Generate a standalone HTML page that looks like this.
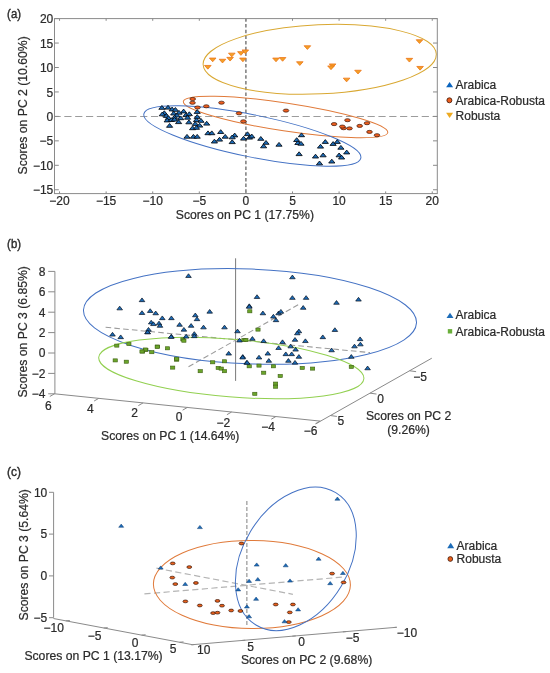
<!DOCTYPE html>
<html><head><meta charset="utf-8"><style>
html,body{margin:0;padding:0;background:#fff;}
body{width:550px;height:673px;overflow:hidden;}
svg{display:block;font-family:"Liberation Sans", sans-serif;will-change:transform;}
text{stroke:#2a2a2a;stroke-width:0.22px;paint-order:stroke;}
</style></head><body>
<svg width="550" height="673" viewBox="0 0 550 673">
<rect width="550" height="673" fill="#fff"/>
<line x1="54.5" y1="116.4" x2="437.3" y2="116.4" stroke="#9c9c9c" stroke-width="1.05" stroke-dasharray="7.2 3.63" stroke-dashoffset="1"/>
<line x1="245.9" y1="18.6" x2="245.9" y2="193.6" stroke="#727272" stroke-width="1.4" stroke-dasharray="3.5 2.2" stroke-dashoffset="0.3"/>
<ellipse cx="319.7" cy="59.3" rx="116.7" ry="34.6" transform="rotate(-2.6 319.7 59.3)" fill="none" stroke="#D9A832" stroke-width="1.0"/>
<ellipse cx="285.55" cy="117" rx="103.4" ry="14" transform="rotate(8.62 285.55 117)" fill="none" stroke="#E07A3A" stroke-width="1.0"/>
<ellipse cx="252.35" cy="136" rx="110.7" ry="21.05" transform="rotate(11.5 252.35 136)" fill="none" stroke="#4472C4" stroke-width="1.0"/>
<polygon points="204.5,65.45 211.1,65.45 207.8,69.15" fill="#F3A226" stroke="#EE7418" stroke-width="0.8" stroke-linejoin="miter"/>
<polygon points="209.4,58.05 216,58.05 212.7,61.75" fill="#F3A226" stroke="#EE7418" stroke-width="0.8" stroke-linejoin="miter"/>
<polygon points="219.2,59.25 225.8,59.25 222.5,62.95" fill="#F3A226" stroke="#EE7418" stroke-width="0.8" stroke-linejoin="miter"/>
<polygon points="226.8,57.35 233.4,57.35 230.1,61.05" fill="#F3A226" stroke="#EE7418" stroke-width="0.8" stroke-linejoin="miter"/>
<polygon points="228.5,53.15 235.1,53.15 231.8,56.85" fill="#F3A226" stroke="#EE7418" stroke-width="0.8" stroke-linejoin="miter"/>
<polygon points="237.6,51.65 244.2,51.65 240.9,55.35" fill="#F3A226" stroke="#EE7418" stroke-width="0.8" stroke-linejoin="miter"/>
<polygon points="242,49.95 248.6,49.95 245.3,53.65" fill="#F3A226" stroke="#EE7418" stroke-width="0.8" stroke-linejoin="miter"/>
<polygon points="239.6,58.05 246.2,58.05 242.9,61.75" fill="#F3A226" stroke="#EE7418" stroke-width="0.8" stroke-linejoin="miter"/>
<polygon points="272.7,58.05 279.3,58.05 276,61.75" fill="#F3A226" stroke="#EE7418" stroke-width="0.8" stroke-linejoin="miter"/>
<polygon points="279.3,57.55 285.9,57.55 282.6,61.25" fill="#F3A226" stroke="#EE7418" stroke-width="0.8" stroke-linejoin="miter"/>
<polygon points="296.5,61.75 303.1,61.75 299.8,65.45" fill="#F3A226" stroke="#EE7418" stroke-width="0.8" stroke-linejoin="miter"/>
<polygon points="304.1,45.75 310.7,45.75 307.4,49.45" fill="#F3A226" stroke="#EE7418" stroke-width="0.8" stroke-linejoin="miter"/>
<polygon points="329.3,63.95 335.9,63.95 332.6,67.65" fill="#F3A226" stroke="#EE7418" stroke-width="0.8" stroke-linejoin="miter"/>
<polygon points="327.7,65.95 334.3,65.95 331,69.65" fill="#F3A226" stroke="#EE7418" stroke-width="0.8" stroke-linejoin="miter"/>
<polygon points="343.3,78.15 349.9,78.15 346.6,81.85" fill="#F3A226" stroke="#EE7418" stroke-width="0.8" stroke-linejoin="miter"/>
<polygon points="354.7,70.25 361.3,70.25 358,73.95" fill="#F3A226" stroke="#EE7418" stroke-width="0.8" stroke-linejoin="miter"/>
<polygon points="406.1,58.35 412.7,58.35 409.4,62.05" fill="#F3A226" stroke="#EE7418" stroke-width="0.8" stroke-linejoin="miter"/>
<polygon points="416.2,39.75 422.8,39.75 419.5,43.45" fill="#F3A226" stroke="#EE7418" stroke-width="0.8" stroke-linejoin="miter"/>
<polygon points="416.8,66.45 423.4,66.45 420.1,70.15" fill="#F3A226" stroke="#EE7418" stroke-width="0.8" stroke-linejoin="miter"/>
<ellipse cx="192.7" cy="99" rx="2.85" ry="1.55" fill="#EE5E1E" stroke="#3a1204" stroke-width="0.7"/>
<ellipse cx="192.5" cy="102.8" rx="2.85" ry="1.55" fill="#EE5E1E" stroke="#3a1204" stroke-width="0.7"/>
<ellipse cx="197.5" cy="107.5" rx="2.85" ry="1.55" fill="#EE5E1E" stroke="#3a1204" stroke-width="0.7"/>
<ellipse cx="206.3" cy="106.3" rx="2.85" ry="1.55" fill="#EE5E1E" stroke="#3a1204" stroke-width="0.7"/>
<ellipse cx="221.5" cy="102.7" rx="2.85" ry="1.55" fill="#EE5E1E" stroke="#3a1204" stroke-width="0.7"/>
<ellipse cx="239" cy="113.3" rx="2.85" ry="1.55" fill="#EE5E1E" stroke="#3a1204" stroke-width="0.7"/>
<ellipse cx="243.4" cy="121.3" rx="2.85" ry="1.55" fill="#EE5E1E" stroke="#3a1204" stroke-width="0.7"/>
<ellipse cx="286" cy="110.6" rx="2.85" ry="1.55" fill="#EE5E1E" stroke="#3a1204" stroke-width="0.7"/>
<ellipse cx="334.1" cy="124.1" rx="2.85" ry="1.55" fill="#EE5E1E" stroke="#3a1204" stroke-width="0.7"/>
<ellipse cx="347.5" cy="120.2" rx="2.85" ry="1.55" fill="#EE5E1E" stroke="#3a1204" stroke-width="0.7"/>
<ellipse cx="343.6" cy="128.2" rx="2.85" ry="1.55" fill="#EE5E1E" stroke="#3a1204" stroke-width="0.7"/>
<ellipse cx="342.3" cy="126.6" rx="2.85" ry="1.55" fill="#EE5E1E" stroke="#3a1204" stroke-width="0.7"/>
<ellipse cx="349.5" cy="128.4" rx="2.85" ry="1.55" fill="#EE5E1E" stroke="#3a1204" stroke-width="0.7"/>
<ellipse cx="359.7" cy="125.9" rx="2.85" ry="1.55" fill="#EE5E1E" stroke="#3a1204" stroke-width="0.7"/>
<ellipse cx="367" cy="123.2" rx="2.85" ry="1.55" fill="#EE5E1E" stroke="#3a1204" stroke-width="0.7"/>
<ellipse cx="369.5" cy="131.9" rx="2.85" ry="1.55" fill="#EE5E1E" stroke="#3a1204" stroke-width="0.7"/>
<ellipse cx="377" cy="135.2" rx="2.85" ry="1.55" fill="#EE5E1E" stroke="#3a1204" stroke-width="0.7"/>
<polygon points="158.8,109.3 165,109.3 161.9,105.5" fill="#1C6CB8" stroke="#04080f" stroke-width="0.85" stroke-linejoin="miter"/>
<polygon points="164.9,109.1 171.1,109.1 168,105.3" fill="#1C6CB8" stroke="#04080f" stroke-width="0.85" stroke-linejoin="miter"/>
<polygon points="169,110.9 175.2,110.9 172.1,107.1" fill="#1C6CB8" stroke="#04080f" stroke-width="0.85" stroke-linejoin="miter"/>
<polygon points="172.3,111.3 178.5,111.3 175.4,107.5" fill="#1C6CB8" stroke="#04080f" stroke-width="0.85" stroke-linejoin="miter"/>
<polygon points="180.5,112.9 186.7,112.9 183.6,109.1" fill="#1C6CB8" stroke="#04080f" stroke-width="0.85" stroke-linejoin="miter"/>
<polygon points="161.2,114.6 167.4,114.6 164.3,110.8" fill="#1C6CB8" stroke="#04080f" stroke-width="0.85" stroke-linejoin="miter"/>
<polygon points="159.2,115.8 165.4,115.8 162.3,112" fill="#1C6CB8" stroke="#04080f" stroke-width="0.85" stroke-linejoin="miter"/>
<polygon points="170.6,115 176.8,115 173.7,111.2" fill="#1C6CB8" stroke="#04080f" stroke-width="0.85" stroke-linejoin="miter"/>
<polygon points="175.9,114.2 182.1,114.2 179,110.4" fill="#1C6CB8" stroke="#04080f" stroke-width="0.85" stroke-linejoin="miter"/>
<polygon points="182.9,116.6 189.1,116.6 186,112.8" fill="#1C6CB8" stroke="#04080f" stroke-width="0.85" stroke-linejoin="miter"/>
<polygon points="186.2,115.6 192.4,115.6 189.3,111.8" fill="#1C6CB8" stroke="#04080f" stroke-width="0.85" stroke-linejoin="miter"/>
<polygon points="163.3,117.4 169.5,117.4 166.4,113.6" fill="#1C6CB8" stroke="#04080f" stroke-width="0.85" stroke-linejoin="miter"/>
<polygon points="173.9,117 180.1,117 177,113.2" fill="#1C6CB8" stroke="#04080f" stroke-width="0.85" stroke-linejoin="miter"/>
<polygon points="165.3,119.5 171.5,119.5 168.4,115.7" fill="#1C6CB8" stroke="#04080f" stroke-width="0.85" stroke-linejoin="miter"/>
<polygon points="171.4,119.1 177.6,119.1 174.5,115.3" fill="#1C6CB8" stroke="#04080f" stroke-width="0.85" stroke-linejoin="miter"/>
<polygon points="177.6,119.7 183.8,119.7 180.7,115.9" fill="#1C6CB8" stroke="#04080f" stroke-width="0.85" stroke-linejoin="miter"/>
<polygon points="184.5,119.2 190.7,119.2 187.6,115.4" fill="#1C6CB8" stroke="#04080f" stroke-width="0.85" stroke-linejoin="miter"/>
<polygon points="164.1,121.9 170.3,121.9 167.2,118.1" fill="#1C6CB8" stroke="#04080f" stroke-width="0.85" stroke-linejoin="miter"/>
<polygon points="168.2,121.5 174.4,121.5 171.3,117.7" fill="#1C6CB8" stroke="#04080f" stroke-width="0.85" stroke-linejoin="miter"/>
<polygon points="171.4,121.1 177.6,121.1 174.5,117.3" fill="#1C6CB8" stroke="#04080f" stroke-width="0.85" stroke-linejoin="miter"/>
<polygon points="175.5,123.6 181.7,123.6 178.6,119.8" fill="#1C6CB8" stroke="#04080f" stroke-width="0.85" stroke-linejoin="miter"/>
<polygon points="185.8,123.8 192,123.8 188.9,120" fill="#1C6CB8" stroke="#04080f" stroke-width="0.85" stroke-linejoin="miter"/>
<polygon points="166.5,127.3 172.7,127.3 169.6,123.5" fill="#1C6CB8" stroke="#04080f" stroke-width="0.85" stroke-linejoin="miter"/>
<polygon points="189.5,129.7 195.7,129.7 192.6,125.9" fill="#1C6CB8" stroke="#04080f" stroke-width="0.85" stroke-linejoin="miter"/>
<polygon points="194.1,113.4 200.3,113.4 197.2,109.6" fill="#1C6CB8" stroke="#04080f" stroke-width="0.85" stroke-linejoin="miter"/>
<polygon points="194.1,118.4 200.3,118.4 197.2,114.6" fill="#1C6CB8" stroke="#04080f" stroke-width="0.85" stroke-linejoin="miter"/>
<polygon points="193.4,121.6 199.6,121.6 196.5,117.8" fill="#1C6CB8" stroke="#04080f" stroke-width="0.85" stroke-linejoin="miter"/>
<polygon points="197.9,122.3 204.1,122.3 201,118.5" fill="#1C6CB8" stroke="#04080f" stroke-width="0.85" stroke-linejoin="miter"/>
<polygon points="192.2,125.4 198.4,125.4 195.3,121.6" fill="#1C6CB8" stroke="#04080f" stroke-width="0.85" stroke-linejoin="miter"/>
<polygon points="196.6,127.1 202.8,127.1 199.7,123.3" fill="#1C6CB8" stroke="#04080f" stroke-width="0.85" stroke-linejoin="miter"/>
<polygon points="203.6,125.1 209.8,125.1 206.7,121.3" fill="#1C6CB8" stroke="#04080f" stroke-width="0.85" stroke-linejoin="miter"/>
<polygon points="193.4,129.3 199.6,129.3 196.5,125.5" fill="#1C6CB8" stroke="#04080f" stroke-width="0.85" stroke-linejoin="miter"/>
<polygon points="183.9,138.2 190.1,138.2 187,134.4" fill="#1C6CB8" stroke="#04080f" stroke-width="0.85" stroke-linejoin="miter"/>
<polygon points="190.3,138.2 196.5,138.2 193.4,134.4" fill="#1C6CB8" stroke="#04080f" stroke-width="0.85" stroke-linejoin="miter"/>
<polygon points="194.1,138.2 200.3,138.2 197.2,134.4" fill="#1C6CB8" stroke="#04080f" stroke-width="0.85" stroke-linejoin="miter"/>
<polygon points="204.9,134.7 211.1,134.7 208,130.9" fill="#1C6CB8" stroke="#04080f" stroke-width="0.85" stroke-linejoin="miter"/>
<polygon points="208.7,134.7 214.9,134.7 211.8,130.9" fill="#1C6CB8" stroke="#04080f" stroke-width="0.85" stroke-linejoin="miter"/>
<polygon points="217.6,133.5 223.8,133.5 220.7,129.7" fill="#1C6CB8" stroke="#04080f" stroke-width="0.85" stroke-linejoin="miter"/>
<polygon points="222.1,138.2 228.3,138.2 225.2,134.4" fill="#1C6CB8" stroke="#04080f" stroke-width="0.85" stroke-linejoin="miter"/>
<polygon points="216.4,141.1 222.6,141.1 219.5,137.3" fill="#1C6CB8" stroke="#04080f" stroke-width="0.85" stroke-linejoin="miter"/>
<polygon points="211.3,143 217.5,143 214.4,139.2" fill="#1C6CB8" stroke="#04080f" stroke-width="0.85" stroke-linejoin="miter"/>
<polygon points="231.6,136.9 237.8,136.9 234.7,133.1" fill="#1C6CB8" stroke="#04080f" stroke-width="0.85" stroke-linejoin="miter"/>
<polygon points="229.1,138.8 235.3,138.8 232.2,135" fill="#1C6CB8" stroke="#04080f" stroke-width="0.85" stroke-linejoin="miter"/>
<polygon points="229.1,143.6 235.3,143.6 232.2,139.8" fill="#1C6CB8" stroke="#04080f" stroke-width="0.85" stroke-linejoin="miter"/>
<polygon points="240.5,140.1 246.7,140.1 243.6,136.3" fill="#1C6CB8" stroke="#04080f" stroke-width="0.85" stroke-linejoin="miter"/>
<polygon points="244.4,135.6 250.6,135.6 247.5,131.8" fill="#1C6CB8" stroke="#04080f" stroke-width="0.85" stroke-linejoin="miter"/>
<polygon points="246.4,139.1 252.6,139.1 249.5,135.3" fill="#1C6CB8" stroke="#04080f" stroke-width="0.85" stroke-linejoin="miter"/>
<polygon points="248.7,137.9 254.9,137.9 251.8,134.1" fill="#1C6CB8" stroke="#04080f" stroke-width="0.85" stroke-linejoin="miter"/>
<polygon points="257.7,140.3 263.9,140.3 260.8,136.5" fill="#1C6CB8" stroke="#04080f" stroke-width="0.85" stroke-linejoin="miter"/>
<polygon points="262.9,144.3 269.1,144.3 266,140.5" fill="#1C6CB8" stroke="#04080f" stroke-width="0.85" stroke-linejoin="miter"/>
<polygon points="260.5,147.8 266.7,147.8 263.6,144" fill="#1C6CB8" stroke="#04080f" stroke-width="0.85" stroke-linejoin="miter"/>
<polygon points="275.9,146.2 282.1,146.2 279,142.4" fill="#1C6CB8" stroke="#04080f" stroke-width="0.85" stroke-linejoin="miter"/>
<polygon points="298.4,136.7 304.6,136.7 301.5,132.9" fill="#1C6CB8" stroke="#04080f" stroke-width="0.85" stroke-linejoin="miter"/>
<polygon points="293.6,141.5 299.8,141.5 296.7,137.7" fill="#1C6CB8" stroke="#04080f" stroke-width="0.85" stroke-linejoin="miter"/>
<polygon points="294.8,144.5 301,144.5 297.9,140.7" fill="#1C6CB8" stroke="#04080f" stroke-width="0.85" stroke-linejoin="miter"/>
<polygon points="297.9,145.2 304.1,145.2 301,141.4" fill="#1C6CB8" stroke="#04080f" stroke-width="0.85" stroke-linejoin="miter"/>
<polygon points="296,155.6 302.2,155.6 299.1,151.8" fill="#1C6CB8" stroke="#04080f" stroke-width="0.85" stroke-linejoin="miter"/>
<polygon points="322.2,143.4 328.4,143.4 325.3,139.6" fill="#1C6CB8" stroke="#04080f" stroke-width="0.85" stroke-linejoin="miter"/>
<polygon points="330,145.4 336.2,145.4 333.1,141.6" fill="#1C6CB8" stroke="#04080f" stroke-width="0.85" stroke-linejoin="miter"/>
<polygon points="334.2,143.4 340.4,143.4 337.3,139.6" fill="#1C6CB8" stroke="#04080f" stroke-width="0.85" stroke-linejoin="miter"/>
<polygon points="317.4,148.1 323.6,148.1 320.5,144.3" fill="#1C6CB8" stroke="#04080f" stroke-width="0.85" stroke-linejoin="miter"/>
<polygon points="337.8,149.2 344,149.2 340.9,145.4" fill="#1C6CB8" stroke="#04080f" stroke-width="0.85" stroke-linejoin="miter"/>
<polygon points="343.6,153.9 349.8,153.9 346.7,150.1" fill="#1C6CB8" stroke="#04080f" stroke-width="0.85" stroke-linejoin="miter"/>
<polygon points="312.4,158 318.6,158 315.5,154.2" fill="#1C6CB8" stroke="#04080f" stroke-width="0.85" stroke-linejoin="miter"/>
<polygon points="320,156.8 326.2,156.8 323.1,153" fill="#1C6CB8" stroke="#04080f" stroke-width="0.85" stroke-linejoin="miter"/>
<polygon points="336,156.8 342.2,156.8 339.1,153" fill="#1C6CB8" stroke="#04080f" stroke-width="0.85" stroke-linejoin="miter"/>
<polygon points="338.5,159 344.7,159 341.6,155.2" fill="#1C6CB8" stroke="#04080f" stroke-width="0.85" stroke-linejoin="miter"/>
<polygon points="328.7,163 334.9,163 331.8,159.2" fill="#1C6CB8" stroke="#04080f" stroke-width="0.85" stroke-linejoin="miter"/>
<polygon points="316.4,164.8 322.6,164.8 319.5,161" fill="#1C6CB8" stroke="#04080f" stroke-width="0.85" stroke-linejoin="miter"/>
<rect x="54.5" y="18.6" width="382.8" height="175" fill="none" stroke="#8a8a8a" stroke-width="1"/>
<line x1="59.54" y1="193.6" x2="59.54" y2="191.4" stroke="#8a8a8a" stroke-width="1"/>
<line x1="59.54" y1="18.6" x2="59.54" y2="20.8" stroke="#8a8a8a" stroke-width="1"/>
<text x="59.54" y="205.3" font-size="12" text-anchor="middle" fill="#2a2a2a">−20</text>
<line x1="106.13" y1="193.6" x2="106.13" y2="191.4" stroke="#8a8a8a" stroke-width="1"/>
<line x1="106.13" y1="18.6" x2="106.13" y2="20.8" stroke="#8a8a8a" stroke-width="1"/>
<text x="106.13" y="205.3" font-size="12" text-anchor="middle" fill="#2a2a2a">−15</text>
<line x1="152.72" y1="193.6" x2="152.72" y2="191.4" stroke="#8a8a8a" stroke-width="1"/>
<line x1="152.72" y1="18.6" x2="152.72" y2="20.8" stroke="#8a8a8a" stroke-width="1"/>
<text x="152.72" y="205.3" font-size="12" text-anchor="middle" fill="#2a2a2a">−10</text>
<line x1="199.31" y1="193.6" x2="199.31" y2="191.4" stroke="#8a8a8a" stroke-width="1"/>
<line x1="199.31" y1="18.6" x2="199.31" y2="20.8" stroke="#8a8a8a" stroke-width="1"/>
<text x="199.31" y="205.3" font-size="12" text-anchor="middle" fill="#2a2a2a">−5</text>
<line x1="245.9" y1="193.6" x2="245.9" y2="191.4" stroke="#8a8a8a" stroke-width="1"/>
<line x1="245.9" y1="18.6" x2="245.9" y2="20.8" stroke="#8a8a8a" stroke-width="1"/>
<text x="245.9" y="205.3" font-size="12" text-anchor="middle" fill="#2a2a2a">0</text>
<line x1="292.49" y1="193.6" x2="292.49" y2="191.4" stroke="#8a8a8a" stroke-width="1"/>
<line x1="292.49" y1="18.6" x2="292.49" y2="20.8" stroke="#8a8a8a" stroke-width="1"/>
<text x="292.49" y="205.3" font-size="12" text-anchor="middle" fill="#2a2a2a">5</text>
<line x1="339.08" y1="193.6" x2="339.08" y2="191.4" stroke="#8a8a8a" stroke-width="1"/>
<line x1="339.08" y1="18.6" x2="339.08" y2="20.8" stroke="#8a8a8a" stroke-width="1"/>
<text x="339.08" y="205.3" font-size="12" text-anchor="middle" fill="#2a2a2a">10</text>
<line x1="385.67" y1="193.6" x2="385.67" y2="191.4" stroke="#8a8a8a" stroke-width="1"/>
<line x1="385.67" y1="18.6" x2="385.67" y2="20.8" stroke="#8a8a8a" stroke-width="1"/>
<text x="385.67" y="205.3" font-size="12" text-anchor="middle" fill="#2a2a2a">15</text>
<line x1="432.26" y1="193.6" x2="432.26" y2="191.4" stroke="#8a8a8a" stroke-width="1"/>
<line x1="432.26" y1="18.6" x2="432.26" y2="20.8" stroke="#8a8a8a" stroke-width="1"/>
<text x="432.26" y="205.3" font-size="12" text-anchor="middle" fill="#2a2a2a">20</text>
<line x1="54.5" y1="189.75" x2="58.8" y2="189.75" stroke="#8a8a8a" stroke-width="1"/>
<line x1="437.3" y1="189.75" x2="433" y2="189.75" stroke="#8a8a8a" stroke-width="1"/>
<text x="53.3" y="194.35" font-size="12" text-anchor="end" fill="#2a2a2a">−15</text>
<line x1="54.5" y1="165.3" x2="58.8" y2="165.3" stroke="#8a8a8a" stroke-width="1"/>
<line x1="437.3" y1="165.3" x2="433" y2="165.3" stroke="#8a8a8a" stroke-width="1"/>
<text x="53.3" y="169.9" font-size="12" text-anchor="end" fill="#2a2a2a">−10</text>
<line x1="54.5" y1="140.85" x2="58.8" y2="140.85" stroke="#8a8a8a" stroke-width="1"/>
<line x1="437.3" y1="140.85" x2="433" y2="140.85" stroke="#8a8a8a" stroke-width="1"/>
<text x="53.3" y="145.45" font-size="12" text-anchor="end" fill="#2a2a2a">−5</text>
<line x1="54.5" y1="116.4" x2="58.8" y2="116.4" stroke="#8a8a8a" stroke-width="1"/>
<line x1="437.3" y1="116.4" x2="433" y2="116.4" stroke="#8a8a8a" stroke-width="1"/>
<text x="53.3" y="121" font-size="12" text-anchor="end" fill="#2a2a2a">0</text>
<line x1="54.5" y1="91.95" x2="58.8" y2="91.95" stroke="#8a8a8a" stroke-width="1"/>
<line x1="437.3" y1="91.95" x2="433" y2="91.95" stroke="#8a8a8a" stroke-width="1"/>
<text x="53.3" y="96.55" font-size="12" text-anchor="end" fill="#2a2a2a">5</text>
<line x1="54.5" y1="67.5" x2="58.8" y2="67.5" stroke="#8a8a8a" stroke-width="1"/>
<line x1="437.3" y1="67.5" x2="433" y2="67.5" stroke="#8a8a8a" stroke-width="1"/>
<text x="53.3" y="72.1" font-size="12" text-anchor="end" fill="#2a2a2a">10</text>
<line x1="54.5" y1="43.05" x2="58.8" y2="43.05" stroke="#8a8a8a" stroke-width="1"/>
<line x1="437.3" y1="43.05" x2="433" y2="43.05" stroke="#8a8a8a" stroke-width="1"/>
<text x="53.3" y="47.65" font-size="12" text-anchor="end" fill="#2a2a2a">15</text>
<line x1="54.5" y1="18.6" x2="58.8" y2="18.6" stroke="#8a8a8a" stroke-width="1"/>
<line x1="437.3" y1="18.6" x2="433" y2="18.6" stroke="#8a8a8a" stroke-width="1"/>
<text x="53.3" y="23.2" font-size="12" text-anchor="end" fill="#2a2a2a">20</text>
<text x="244.9" y="218.9" font-size="12.2" text-anchor="middle" fill="#2a2a2a">Scores on PC 1 (17.75%)</text>
<text x="27" y="105.4" font-size="12.2" text-anchor="middle" fill="#2a2a2a" transform="rotate(-90 27 105.4)">Scores on PC 2 (10.60%)</text>
<text x="7.1" y="17.8" font-size="12.5" text-anchor="start" fill="#2a2a2a" textLength="13.9" lengthAdjust="spacingAndGlyphs" style="stroke-width:0.4px">(a)</text>
<polygon points="446.1,87.3 453.1,87.3 449.6,81.9" fill="#0a64be"/>
<text x="455.6" y="89" font-size="12" text-anchor="start" fill="#2a2a2a">Arabica</text>
<ellipse cx="449.4" cy="100.3" rx="2.5" ry="2.5" fill="#EE5E1E" stroke="#3a1505" stroke-width="0.8"/>
<text x="455.6" y="104.6" font-size="12" text-anchor="start" fill="#2a2a2a">Arabica-Robusta</text>
<polygon points="446.1,112.7 453.1,112.7 449.6,117.9" fill="#EDAA22"/>
<text x="455.6" y="120.2" font-size="12" text-anchor="start" fill="#2a2a2a">Robusta</text>
<line x1="54.9" y1="271.4" x2="54.9" y2="393.8" stroke="#8a8a8a" stroke-width="1"/>
<line x1="48.2" y1="393.8" x2="54.9" y2="393.8" stroke="#8a8a8a" stroke-width="1"/>
<text x="45.5" y="398.1" font-size="12" text-anchor="end" fill="#2a2a2a">−4</text>
<line x1="48.2" y1="373.4" x2="54.9" y2="373.4" stroke="#8a8a8a" stroke-width="1"/>
<text x="45.5" y="377.7" font-size="12" text-anchor="end" fill="#2a2a2a">−2</text>
<line x1="48.2" y1="353" x2="54.9" y2="353" stroke="#8a8a8a" stroke-width="1"/>
<text x="45.5" y="357.3" font-size="12" text-anchor="end" fill="#2a2a2a">0</text>
<line x1="48.2" y1="332.6" x2="54.9" y2="332.6" stroke="#8a8a8a" stroke-width="1"/>
<text x="45.5" y="336.9" font-size="12" text-anchor="end" fill="#2a2a2a">2</text>
<line x1="48.2" y1="312.2" x2="54.9" y2="312.2" stroke="#8a8a8a" stroke-width="1"/>
<text x="45.5" y="316.5" font-size="12" text-anchor="end" fill="#2a2a2a">4</text>
<line x1="48.2" y1="291.8" x2="54.9" y2="291.8" stroke="#8a8a8a" stroke-width="1"/>
<text x="45.5" y="296.1" font-size="12" text-anchor="end" fill="#2a2a2a">6</text>
<line x1="48.2" y1="271.4" x2="54.9" y2="271.4" stroke="#8a8a8a" stroke-width="1"/>
<text x="45.5" y="275.7" font-size="12" text-anchor="end" fill="#2a2a2a">8</text>
<line x1="54.5" y1="393.8" x2="320.2" y2="421.1" stroke="#8a8a8a" stroke-width="1"/>
<line x1="54.5" y1="393.8" x2="49.8" y2="396.5" stroke="#8a8a8a" stroke-width="1"/>
<text x="48.3" y="409.6" font-size="12" text-anchor="middle" fill="#2a2a2a">6</text>
<line x1="98.78" y1="398.35" x2="94.08" y2="401.05" stroke="#8a8a8a" stroke-width="1"/>
<text x="90.4" y="412.9" font-size="12" text-anchor="middle" fill="#2a2a2a">4</text>
<line x1="143.06" y1="402.9" x2="138.36" y2="405.6" stroke="#8a8a8a" stroke-width="1"/>
<text x="134.6" y="417.1" font-size="12" text-anchor="middle" fill="#2a2a2a">2</text>
<line x1="187.34" y1="407.45" x2="182.64" y2="410.15" stroke="#8a8a8a" stroke-width="1"/>
<text x="179.2" y="421.3" font-size="12" text-anchor="middle" fill="#2a2a2a">0</text>
<line x1="231.62" y1="412" x2="226.92" y2="414.7" stroke="#8a8a8a" stroke-width="1"/>
<text x="223.4" y="426.5" font-size="12" text-anchor="middle" fill="#2a2a2a">−2</text>
<line x1="275.9" y1="416.55" x2="271.2" y2="419.25" stroke="#8a8a8a" stroke-width="1"/>
<text x="268.2" y="431.1" font-size="12" text-anchor="middle" fill="#2a2a2a">−4</text>
<line x1="320.18" y1="421.1" x2="315.48" y2="423.8" stroke="#8a8a8a" stroke-width="1"/>
<text x="310.6" y="435.2" font-size="12" text-anchor="middle" fill="#2a2a2a">−6</text>
<line x1="315.8" y1="423.8" x2="431.8" y2="358.2" stroke="#8a8a8a" stroke-width="1"/>
<line x1="330.4" y1="415.54" x2="336.9" y2="416.44" stroke="#8a8a8a" stroke-width="1"/>
<text x="340.9" y="425.34" font-size="12" text-anchor="middle" fill="#2a2a2a">5</text>
<line x1="370" y1="393.15" x2="376.5" y2="394.05" stroke="#8a8a8a" stroke-width="1"/>
<text x="380.5" y="402.95" font-size="12" text-anchor="middle" fill="#2a2a2a">0</text>
<line x1="409.6" y1="370.76" x2="416.1" y2="371.66" stroke="#8a8a8a" stroke-width="1"/>
<text x="420.1" y="380.56" font-size="12" text-anchor="middle" fill="#2a2a2a">−5</text>
<line x1="235.6" y1="258.3" x2="235.6" y2="380.9" stroke="#7a7a7a" stroke-width="1"/>
<line x1="105.6" y1="327.3" x2="370" y2="352.6" stroke="#9a9a9a" stroke-width="1.05" stroke-dasharray="5.6 3.2"/>
<line x1="188.5" y1="366.8" x2="300.5" y2="303.4" stroke="#9a9a9a" stroke-width="1.05" stroke-dasharray="5.6 3"/>
<ellipse cx="249.98" cy="316.45" rx="166.63" ry="47.42" transform="rotate(2.21 249.98 316.45)" fill="none" stroke="#4472C4" stroke-width="1.0"/>
<ellipse cx="231.3" cy="368" rx="133" ry="28.9" transform="rotate(4.6 231.3 368)" fill="none" stroke="#92D050" stroke-width="1.0"/>
<rect x="114.7" y="344.05" width="4.2" height="3.1" fill="#6AA52A" stroke="#3d5e12" stroke-width="0.6"/>
<rect x="126.8" y="342.45" width="4.2" height="3.1" fill="#6AA52A" stroke="#3d5e12" stroke-width="0.6"/>
<rect x="140.5" y="349.95" width="4.2" height="3.1" fill="#6AA52A" stroke="#3d5e12" stroke-width="0.6"/>
<rect x="143.8" y="348.35" width="4.2" height="3.1" fill="#6AA52A" stroke="#3d5e12" stroke-width="0.6"/>
<rect x="149.7" y="350.65" width="4.2" height="3.1" fill="#6AA52A" stroke="#3d5e12" stroke-width="0.6"/>
<rect x="155.3" y="345.05" width="4.2" height="3.1" fill="#6AA52A" stroke="#3d5e12" stroke-width="0.6"/>
<rect x="165.4" y="346.75" width="4.2" height="3.1" fill="#6AA52A" stroke="#3d5e12" stroke-width="0.6"/>
<rect x="180.8" y="337.85" width="4.2" height="3.1" fill="#6AA52A" stroke="#3d5e12" stroke-width="0.6"/>
<rect x="181.8" y="339.15" width="4.2" height="3.1" fill="#6AA52A" stroke="#3d5e12" stroke-width="0.6"/>
<rect x="113.1" y="358.85" width="4.2" height="3.1" fill="#6AA52A" stroke="#3d5e12" stroke-width="0.6"/>
<rect x="124.2" y="360.15" width="4.2" height="3.1" fill="#6AA52A" stroke="#3d5e12" stroke-width="0.6"/>
<rect x="174.6" y="358.15" width="4.2" height="3.1" fill="#6AA52A" stroke="#3d5e12" stroke-width="0.6"/>
<rect x="170.6" y="366.05" width="4.2" height="3.1" fill="#6AA52A" stroke="#3d5e12" stroke-width="0.6"/>
<rect x="198.1" y="369.65" width="4.2" height="3.1" fill="#6AA52A" stroke="#3d5e12" stroke-width="0.6"/>
<rect x="210.6" y="360.75" width="4.2" height="3.1" fill="#6AA52A" stroke="#3d5e12" stroke-width="0.6"/>
<rect x="216.1" y="366.35" width="4.2" height="3.1" fill="#6AA52A" stroke="#3d5e12" stroke-width="0.6"/>
<rect x="219.1" y="367.05" width="4.2" height="3.1" fill="#6AA52A" stroke="#3d5e12" stroke-width="0.6"/>
<rect x="222.4" y="369.65" width="4.2" height="3.1" fill="#6AA52A" stroke="#3d5e12" stroke-width="0.6"/>
<rect x="222.4" y="359.75" width="4.2" height="3.1" fill="#6AA52A" stroke="#3d5e12" stroke-width="0.6"/>
<rect x="241.9" y="338.55" width="4.2" height="3.1" fill="#6AA52A" stroke="#3d5e12" stroke-width="0.6"/>
<rect x="247.7" y="309.75" width="4.2" height="3.1" fill="#6AA52A" stroke="#3d5e12" stroke-width="0.6"/>
<rect x="255.9" y="328.05" width="4.2" height="3.1" fill="#6AA52A" stroke="#3d5e12" stroke-width="0.6"/>
<rect x="243.8" y="338.55" width="4.2" height="3.1" fill="#6AA52A" stroke="#3d5e12" stroke-width="0.6"/>
<rect x="247.1" y="364.75" width="4.2" height="3.1" fill="#6AA52A" stroke="#3d5e12" stroke-width="0.6"/>
<rect x="256.9" y="364.05" width="4.2" height="3.1" fill="#6AA52A" stroke="#3d5e12" stroke-width="0.6"/>
<rect x="271.3" y="364.75" width="4.2" height="3.1" fill="#6AA52A" stroke="#3d5e12" stroke-width="0.6"/>
<rect x="300.1" y="366.35" width="4.2" height="3.1" fill="#6AA52A" stroke="#3d5e12" stroke-width="0.6"/>
<rect x="310.5" y="367.05" width="4.2" height="3.1" fill="#6AA52A" stroke="#3d5e12" stroke-width="0.6"/>
<rect x="349.2" y="365.35" width="4.2" height="3.1" fill="#6AA52A" stroke="#3d5e12" stroke-width="0.6"/>
<rect x="261.6" y="371.15" width="4.2" height="3.1" fill="#6AA52A" stroke="#3d5e12" stroke-width="0.6"/>
<rect x="278.1" y="374.45" width="4.2" height="3.1" fill="#6AA52A" stroke="#3d5e12" stroke-width="0.6"/>
<rect x="273.5" y="382.05" width="4.2" height="3.1" fill="#6AA52A" stroke="#3d5e12" stroke-width="0.6"/>
<rect x="273.5" y="385.15" width="4.2" height="3.1" fill="#6AA52A" stroke="#3d5e12" stroke-width="0.6"/>
<rect x="252.7" y="392.25" width="4.2" height="3.1" fill="#6AA52A" stroke="#3d5e12" stroke-width="0.6"/>
<rect x="155.1" y="345.15" width="4.2" height="3.1" fill="#6AA52A" stroke="#3d5e12" stroke-width="0.6"/>
<rect x="143.4" y="347.95" width="4.2" height="3.1" fill="#6AA52A" stroke="#3d5e12" stroke-width="0.6"/>
<rect x="139.9" y="349.95" width="4.2" height="3.1" fill="#6AA52A" stroke="#3d5e12" stroke-width="0.6"/>
<rect x="174.6" y="357.15" width="4.2" height="3.1" fill="#6AA52A" stroke="#3d5e12" stroke-width="0.6"/>
<polygon points="185.7,277.45 191.3,277.45 188.5,273.75" fill="#1C6CB8" stroke="#06101e" stroke-width="0.7" stroke-linejoin="miter"/>
<polygon points="139.2,301.65 144.8,301.65 142,297.95" fill="#1C6CB8" stroke="#06101e" stroke-width="0.7" stroke-linejoin="miter"/>
<polygon points="116.9,309.85 122.5,309.85 119.7,306.15" fill="#1C6CB8" stroke="#06101e" stroke-width="0.7" stroke-linejoin="miter"/>
<polygon points="139.2,314.45 144.8,314.45 142,310.75" fill="#1C6CB8" stroke="#06101e" stroke-width="0.7" stroke-linejoin="miter"/>
<polygon points="147.4,312.45 153,312.45 150.2,308.75" fill="#1C6CB8" stroke="#06101e" stroke-width="0.7" stroke-linejoin="miter"/>
<polygon points="152.9,314.75 158.5,314.75 155.7,311.05" fill="#1C6CB8" stroke="#06101e" stroke-width="0.7" stroke-linejoin="miter"/>
<polygon points="159.5,319.65 165.1,319.65 162.3,315.95" fill="#1C6CB8" stroke="#06101e" stroke-width="0.7" stroke-linejoin="miter"/>
<polygon points="168.6,319.65 174.2,319.65 171.4,315.95" fill="#1C6CB8" stroke="#06101e" stroke-width="0.7" stroke-linejoin="miter"/>
<polygon points="148.4,323.95 154,323.95 151.2,320.25" fill="#1C6CB8" stroke="#06101e" stroke-width="0.7" stroke-linejoin="miter"/>
<polygon points="150.6,325.55 156.2,325.55 153.4,321.85" fill="#1C6CB8" stroke="#06101e" stroke-width="0.7" stroke-linejoin="miter"/>
<polygon points="156.2,324.85 161.8,324.85 159,321.15" fill="#1C6CB8" stroke="#06101e" stroke-width="0.7" stroke-linejoin="miter"/>
<polygon points="157.2,327.25 162.8,327.25 160,323.55" fill="#1C6CB8" stroke="#06101e" stroke-width="0.7" stroke-linejoin="miter"/>
<polygon points="176.8,326.25 182.4,326.25 179.6,322.55" fill="#1C6CB8" stroke="#06101e" stroke-width="0.7" stroke-linejoin="miter"/>
<polygon points="188.3,327.25 193.9,327.25 191.1,323.55" fill="#1C6CB8" stroke="#06101e" stroke-width="0.7" stroke-linejoin="miter"/>
<polygon points="192.5,316.75 198.1,316.75 195.3,313.05" fill="#1C6CB8" stroke="#06101e" stroke-width="0.7" stroke-linejoin="miter"/>
<polygon points="194.2,320.65 199.8,320.65 197,316.95" fill="#1C6CB8" stroke="#06101e" stroke-width="0.7" stroke-linejoin="miter"/>
<polygon points="206.9,313.15 212.5,313.15 209.7,309.45" fill="#1C6CB8" stroke="#06101e" stroke-width="0.7" stroke-linejoin="miter"/>
<polygon points="200.7,328.85 206.3,328.85 203.5,325.15" fill="#1C6CB8" stroke="#06101e" stroke-width="0.7" stroke-linejoin="miter"/>
<polygon points="221.7,328.85 227.3,328.85 224.5,325.15" fill="#1C6CB8" stroke="#06101e" stroke-width="0.7" stroke-linejoin="miter"/>
<polygon points="181.1,331.15 186.7,331.15 183.9,327.45" fill="#1C6CB8" stroke="#06101e" stroke-width="0.7" stroke-linejoin="miter"/>
<polygon points="145.7,331.15 151.3,331.15 148.5,327.45" fill="#1C6CB8" stroke="#06101e" stroke-width="0.7" stroke-linejoin="miter"/>
<polygon points="144.8,333.75 150.4,333.75 147.6,330.05" fill="#1C6CB8" stroke="#06101e" stroke-width="0.7" stroke-linejoin="miter"/>
<polygon points="109.7,336.05 115.3,336.05 112.5,332.35" fill="#1C6CB8" stroke="#06101e" stroke-width="0.7" stroke-linejoin="miter"/>
<polygon points="117.9,338.65 123.5,338.65 120.7,334.95" fill="#1C6CB8" stroke="#06101e" stroke-width="0.7" stroke-linejoin="miter"/>
<polygon points="168.6,338.05 174.2,338.05 171.4,334.35" fill="#1C6CB8" stroke="#06101e" stroke-width="0.7" stroke-linejoin="miter"/>
<polygon points="183.4,338.05 189,338.05 186.2,334.35" fill="#1C6CB8" stroke="#06101e" stroke-width="0.7" stroke-linejoin="miter"/>
<polygon points="191.5,335.35 197.1,335.35 194.3,331.65" fill="#1C6CB8" stroke="#06101e" stroke-width="0.7" stroke-linejoin="miter"/>
<polygon points="191.5,337.65 197.1,337.65 194.3,333.95" fill="#1C6CB8" stroke="#06101e" stroke-width="0.7" stroke-linejoin="miter"/>
<polygon points="234.7,332.75 240.3,332.75 237.5,329.05" fill="#1C6CB8" stroke="#06101e" stroke-width="0.7" stroke-linejoin="miter"/>
<polygon points="236.7,341.95 242.3,341.95 239.5,338.25" fill="#1C6CB8" stroke="#06101e" stroke-width="0.7" stroke-linejoin="miter"/>
<polygon points="225.9,355.05 231.5,355.05 228.7,351.35" fill="#1C6CB8" stroke="#06101e" stroke-width="0.7" stroke-linejoin="miter"/>
<polygon points="240,358.25 245.6,358.25 242.8,354.55" fill="#1C6CB8" stroke="#06101e" stroke-width="0.7" stroke-linejoin="miter"/>
<polygon points="243.9,364.15 249.5,364.15 246.7,360.45" fill="#1C6CB8" stroke="#06101e" stroke-width="0.7" stroke-linejoin="miter"/>
<polygon points="246.5,307.55 252.1,307.55 249.3,303.85" fill="#1C6CB8" stroke="#06101e" stroke-width="0.7" stroke-linejoin="miter"/>
<polygon points="289.6,278.75 295.2,278.75 292.4,275.05" fill="#1C6CB8" stroke="#06101e" stroke-width="0.7" stroke-linejoin="miter"/>
<polygon points="254.2,298.45 259.8,298.45 257,294.75" fill="#1C6CB8" stroke="#06101e" stroke-width="0.7" stroke-linejoin="miter"/>
<polygon points="289.6,299.35 295.2,299.35 292.4,295.65" fill="#1C6CB8" stroke="#06101e" stroke-width="0.7" stroke-linejoin="miter"/>
<polygon points="303.3,299.35 308.9,299.35 306.1,295.65" fill="#1C6CB8" stroke="#06101e" stroke-width="0.7" stroke-linejoin="miter"/>
<polygon points="333.7,304.25 339.3,304.25 336.5,300.55" fill="#1C6CB8" stroke="#06101e" stroke-width="0.7" stroke-linejoin="miter"/>
<polygon points="355.7,301.05 361.3,301.05 358.5,297.35" fill="#1C6CB8" stroke="#06101e" stroke-width="0.7" stroke-linejoin="miter"/>
<polygon points="246.4,308.25 252,308.25 249.2,304.55" fill="#1C6CB8" stroke="#06101e" stroke-width="0.7" stroke-linejoin="miter"/>
<polygon points="260.1,314.75 265.7,314.75 262.9,311.05" fill="#1C6CB8" stroke="#06101e" stroke-width="0.7" stroke-linejoin="miter"/>
<polygon points="300.4,309.25 306,309.25 303.2,305.55" fill="#1C6CB8" stroke="#06101e" stroke-width="0.7" stroke-linejoin="miter"/>
<polygon points="270.6,318.05 276.2,318.05 273.4,314.35" fill="#1C6CB8" stroke="#06101e" stroke-width="0.7" stroke-linejoin="miter"/>
<polygon points="273.2,321.65 278.8,321.65 276,317.95" fill="#1C6CB8" stroke="#06101e" stroke-width="0.7" stroke-linejoin="miter"/>
<polygon points="275.8,314.75 281.4,314.75 278.6,311.05" fill="#1C6CB8" stroke="#06101e" stroke-width="0.7" stroke-linejoin="miter"/>
<polygon points="278.1,313.15 283.7,313.15 280.9,309.45" fill="#1C6CB8" stroke="#06101e" stroke-width="0.7" stroke-linejoin="miter"/>
<polygon points="296.1,332.75 301.7,332.75 298.9,329.05" fill="#1C6CB8" stroke="#06101e" stroke-width="0.7" stroke-linejoin="miter"/>
<polygon points="294.5,334.75 300.1,334.75 297.3,331.05" fill="#1C6CB8" stroke="#06101e" stroke-width="0.7" stroke-linejoin="miter"/>
<polygon points="332.1,331.45 337.7,331.45 334.9,327.75" fill="#1C6CB8" stroke="#06101e" stroke-width="0.7" stroke-linejoin="miter"/>
<polygon points="320,338.65 325.6,338.65 322.8,334.95" fill="#1C6CB8" stroke="#06101e" stroke-width="0.7" stroke-linejoin="miter"/>
<polygon points="302.6,342.55 308.2,342.55 305.4,338.85" fill="#1C6CB8" stroke="#06101e" stroke-width="0.7" stroke-linejoin="miter"/>
<polygon points="292.2,341.25 297.8,341.25 295,337.55" fill="#1C6CB8" stroke="#06101e" stroke-width="0.7" stroke-linejoin="miter"/>
<polygon points="279.7,343.55 285.3,343.55 282.5,339.85" fill="#1C6CB8" stroke="#06101e" stroke-width="0.7" stroke-linejoin="miter"/>
<polygon points="260.8,342.55 266.4,342.55 263.6,338.85" fill="#1C6CB8" stroke="#06101e" stroke-width="0.7" stroke-linejoin="miter"/>
<polygon points="249.6,340.25 255.2,340.25 252.4,336.55" fill="#1C6CB8" stroke="#06101e" stroke-width="0.7" stroke-linejoin="miter"/>
<polygon points="357.3,340.65 362.9,340.65 360.1,336.95" fill="#1C6CB8" stroke="#06101e" stroke-width="0.7" stroke-linejoin="miter"/>
<polygon points="357.6,345.85 363.2,345.85 360.4,342.15" fill="#1C6CB8" stroke="#06101e" stroke-width="0.7" stroke-linejoin="miter"/>
<polygon points="351.7,347.85 357.3,347.85 354.5,344.15" fill="#1C6CB8" stroke="#06101e" stroke-width="0.7" stroke-linejoin="miter"/>
<polygon points="328.8,351.75 334.4,351.75 331.6,348.05" fill="#1C6CB8" stroke="#06101e" stroke-width="0.7" stroke-linejoin="miter"/>
<polygon points="287.9,347.85 293.5,347.85 290.7,344.15" fill="#1C6CB8" stroke="#06101e" stroke-width="0.7" stroke-linejoin="miter"/>
<polygon points="292.8,351.05 298.4,351.05 295.6,347.35" fill="#1C6CB8" stroke="#06101e" stroke-width="0.7" stroke-linejoin="miter"/>
<polygon points="296.1,358.25 301.7,358.25 298.9,354.55" fill="#1C6CB8" stroke="#06101e" stroke-width="0.7" stroke-linejoin="miter"/>
<polygon points="275.8,349.45 281.4,349.45 278.6,345.75" fill="#1C6CB8" stroke="#06101e" stroke-width="0.7" stroke-linejoin="miter"/>
<polygon points="283,355.65 288.6,355.65 285.8,351.95" fill="#1C6CB8" stroke="#06101e" stroke-width="0.7" stroke-linejoin="miter"/>
<polygon points="288.9,355.65 294.5,355.65 291.7,351.95" fill="#1C6CB8" stroke="#06101e" stroke-width="0.7" stroke-linejoin="miter"/>
<polygon points="265,355.05 270.6,355.05 267.8,351.35" fill="#1C6CB8" stroke="#06101e" stroke-width="0.7" stroke-linejoin="miter"/>
<polygon points="256.2,358.95 261.8,358.95 259,355.25" fill="#1C6CB8" stroke="#06101e" stroke-width="0.7" stroke-linejoin="miter"/>
<polygon points="266,362.25 271.6,362.25 268.8,358.55" fill="#1C6CB8" stroke="#06101e" stroke-width="0.7" stroke-linejoin="miter"/>
<polygon points="285.6,362.25 291.2,362.25 288.4,358.55" fill="#1C6CB8" stroke="#06101e" stroke-width="0.7" stroke-linejoin="miter"/>
<polygon points="292.2,364.15 297.8,364.15 295,360.45" fill="#1C6CB8" stroke="#06101e" stroke-width="0.7" stroke-linejoin="miter"/>
<polygon points="348.5,358.25 354.1,358.25 351.3,354.55" fill="#1C6CB8" stroke="#06101e" stroke-width="0.7" stroke-linejoin="miter"/>
<polygon points="239.8,358.95 245.4,358.95 242.6,355.25" fill="#1C6CB8" stroke="#06101e" stroke-width="0.7" stroke-linejoin="miter"/>
<polygon points="244.4,364.15 250,364.15 247.2,360.45" fill="#1C6CB8" stroke="#06101e" stroke-width="0.7" stroke-linejoin="miter"/>
<polygon points="364.8,369.75 370.4,369.75 367.6,366.05" fill="#1C6CB8" stroke="#06101e" stroke-width="0.7" stroke-linejoin="miter"/>
<polygon points="144.8,333.65 150.4,333.65 147.6,329.95" fill="#1C6CB8" stroke="#06101e" stroke-width="0.7" stroke-linejoin="miter"/>
<polygon points="168.3,338.35 173.9,338.35 171.1,334.65" fill="#1C6CB8" stroke="#06101e" stroke-width="0.7" stroke-linejoin="miter"/>
<text x="170.2" y="439.5" font-size="12.2" text-anchor="middle" fill="#2a2a2a">Scores on PC 1 (14.64%)</text>
<text x="408.6" y="420" font-size="12.2" text-anchor="middle" fill="#2a2a2a">Scores on PC 2</text>
<text x="408.6" y="433.6" font-size="12.2" text-anchor="middle" fill="#2a2a2a">(9.26%)</text>
<text x="27.3" y="331.8" font-size="12.2" text-anchor="middle" fill="#2a2a2a" transform="rotate(-90 27.3 331.8)">Scores on PC 3 (6.85%)</text>
<text x="7.1" y="248.4" font-size="12.5" text-anchor="start" fill="#2a2a2a" textLength="13.9" lengthAdjust="spacingAndGlyphs" style="stroke-width:0.4px">(b)</text>
<polygon points="446.5,318.1 453.5,318.1 450,312.7" fill="#1C6CB8"/>
<text x="455.6" y="319.4" font-size="12" text-anchor="start" fill="#2a2a2a">Arabica</text>
<rect x="447.8" y="329.1" width="4.4" height="4.4" fill="#6AAF3A"/>
<text x="455.6" y="336" font-size="12" text-anchor="start" fill="#2a2a2a">Arabica-Robusta</text>
<line x1="53.6" y1="492.3" x2="53.6" y2="617.7" stroke="#8a8a8a" stroke-width="1"/>
<line x1="49" y1="492.3" x2="53.6" y2="492.3" stroke="#8a8a8a" stroke-width="1"/>
<text x="47.3" y="496.6" font-size="12" text-anchor="end" fill="#2a2a2a">10</text>
<line x1="49" y1="534.1" x2="53.6" y2="534.1" stroke="#8a8a8a" stroke-width="1"/>
<text x="47.3" y="538.4" font-size="12" text-anchor="end" fill="#2a2a2a">5</text>
<line x1="49" y1="575.9" x2="53.6" y2="575.9" stroke="#8a8a8a" stroke-width="1"/>
<text x="47.3" y="580.2" font-size="12" text-anchor="end" fill="#2a2a2a">0</text>
<line x1="49" y1="617.7" x2="53.6" y2="617.7" stroke="#8a8a8a" stroke-width="1"/>
<text x="47.3" y="622" font-size="12" text-anchor="end" fill="#2a2a2a">−5</text>
<line x1="53.45" y1="618.5" x2="192.5" y2="644.7" stroke="#8a8a8a" stroke-width="1"/>
<line x1="65.8" y1="620.83" x2="69.8" y2="620.48" stroke="#8a8a8a" stroke-width="1"/>
<text x="53.8" y="631.7" font-size="12" text-anchor="middle" fill="#2a2a2a">−10</text>
<line x1="103.7" y1="627.97" x2="107.7" y2="627.62" stroke="#8a8a8a" stroke-width="1"/>
<text x="94.5" y="639.7" font-size="12" text-anchor="middle" fill="#2a2a2a">−5</text>
<line x1="141.6" y1="635.11" x2="145.6" y2="634.76" stroke="#8a8a8a" stroke-width="1"/>
<text x="135.1" y="646.6" font-size="12" text-anchor="middle" fill="#2a2a2a">0</text>
<line x1="179.5" y1="642.25" x2="183.5" y2="641.9" stroke="#8a8a8a" stroke-width="1"/>
<text x="173.1" y="653.3" font-size="12" text-anchor="middle" fill="#2a2a2a">5</text>
<line x1="192.5" y1="644.7" x2="396.3" y2="627.3" stroke="#8a8a8a" stroke-width="1"/>
<line x1="194.6" y1="644.52" x2="191.1" y2="644.82" stroke="#8a8a8a" stroke-width="1"/>
<text x="203.8" y="654.3" font-size="12" text-anchor="middle" fill="#2a2a2a">10</text>
<line x1="245.2" y1="640.2" x2="241.7" y2="640.5" stroke="#8a8a8a" stroke-width="1"/>
<text x="250.5" y="650.9" font-size="12" text-anchor="middle" fill="#2a2a2a">5</text>
<line x1="295.8" y1="635.88" x2="292.3" y2="636.18" stroke="#8a8a8a" stroke-width="1"/>
<text x="301.5" y="645.9" font-size="12" text-anchor="middle" fill="#2a2a2a">0</text>
<line x1="346.4" y1="631.56" x2="342.9" y2="631.86" stroke="#8a8a8a" stroke-width="1"/>
<text x="352.5" y="641.8" font-size="12" text-anchor="middle" fill="#2a2a2a">−5</text>
<line x1="397" y1="627.24" x2="393.5" y2="627.54" stroke="#8a8a8a" stroke-width="1"/>
<text x="406.9" y="637.3" font-size="12" text-anchor="middle" fill="#2a2a2a">−10</text>
<line x1="246.8" y1="500.9" x2="246.8" y2="626.4" stroke="#b0b0b0" stroke-width="1.6" stroke-dasharray="4 2"/>
<line x1="156.4" y1="568.2" x2="292.9" y2="594.3" stroke="#b4b4b4" stroke-width="1.2" stroke-dasharray="6.2 3.4"/>
<line x1="144.4" y1="593.9" x2="342.9" y2="577.1" stroke="#b4b4b4" stroke-width="1.2" stroke-dasharray="6.2 3.4"/>
<ellipse cx="251.9" cy="584.5" rx="98.5" ry="44" transform="rotate(0.3 251.9 584.5)" fill="none" stroke="#E07A3A" stroke-width="1.0"/>
<ellipse cx="295.83" cy="558.82" rx="52.99" ry="77.25" transform="rotate(31.1 295.83 558.82)" fill="none" stroke="#4472C4" stroke-width="1.0"/>
<ellipse cx="241.5" cy="543.5" rx="2.45" ry="1.4" fill="#E8601C" stroke="#2a0c02" stroke-width="0.65"/>
<ellipse cx="172.7" cy="563.4" rx="2.45" ry="1.4" fill="#E8601C" stroke="#2a0c02" stroke-width="0.65"/>
<ellipse cx="189.3" cy="567.1" rx="2.45" ry="1.4" fill="#E8601C" stroke="#2a0c02" stroke-width="0.65"/>
<ellipse cx="172.3" cy="577.6" rx="2.45" ry="1.4" fill="#E8601C" stroke="#2a0c02" stroke-width="0.65"/>
<ellipse cx="175.3" cy="584.1" rx="2.45" ry="1.4" fill="#E8601C" stroke="#2a0c02" stroke-width="0.65"/>
<ellipse cx="195.9" cy="583" rx="2.45" ry="1.4" fill="#E8601C" stroke="#2a0c02" stroke-width="0.65"/>
<ellipse cx="185.4" cy="601.4" rx="2.45" ry="1.4" fill="#E8601C" stroke="#2a0c02" stroke-width="0.65"/>
<ellipse cx="199.8" cy="605.5" rx="2.45" ry="1.4" fill="#E8601C" stroke="#2a0c02" stroke-width="0.65"/>
<ellipse cx="217.5" cy="600.9" rx="2.45" ry="1.4" fill="#E8601C" stroke="#2a0c02" stroke-width="0.65"/>
<ellipse cx="222" cy="605.7" rx="2.45" ry="1.4" fill="#E8601C" stroke="#2a0c02" stroke-width="0.65"/>
<ellipse cx="231.2" cy="610.5" rx="2.45" ry="1.4" fill="#E8601C" stroke="#2a0c02" stroke-width="0.65"/>
<ellipse cx="240.4" cy="611" rx="2.45" ry="1.4" fill="#E8601C" stroke="#2a0c02" stroke-width="0.65"/>
<ellipse cx="213.1" cy="613.1" rx="2.45" ry="1.4" fill="#E8601C" stroke="#2a0c02" stroke-width="0.65"/>
<ellipse cx="217.5" cy="612.7" rx="2.45" ry="1.4" fill="#E8601C" stroke="#2a0c02" stroke-width="0.65"/>
<ellipse cx="332.1" cy="573.6" rx="2.45" ry="1.4" fill="#E8601C" stroke="#2a0c02" stroke-width="0.65"/>
<ellipse cx="343.6" cy="582.4" rx="2.45" ry="1.4" fill="#E8601C" stroke="#2a0c02" stroke-width="0.65"/>
<ellipse cx="275.7" cy="604.5" rx="2.45" ry="1.4" fill="#E8601C" stroke="#2a0c02" stroke-width="0.65"/>
<ellipse cx="292.9" cy="604.5" rx="2.45" ry="1.4" fill="#E8601C" stroke="#2a0c02" stroke-width="0.65"/>
<ellipse cx="289.8" cy="612.4" rx="2.45" ry="1.4" fill="#E8601C" stroke="#2a0c02" stroke-width="0.65"/>
<ellipse cx="288.8" cy="622.1" rx="2.45" ry="1.4" fill="#E8601C" stroke="#2a0c02" stroke-width="0.65"/>
<polygon points="118.7,527.3 123.7,527.3 121.2,524.1" fill="#1C6CB8" stroke="#0d3a70" stroke-width="0.5" stroke-linejoin="miter"/>
<polygon points="197.4,528.6 202.4,528.6 199.9,525.4" fill="#1C6CB8" stroke="#0d3a70" stroke-width="0.5" stroke-linejoin="miter"/>
<polygon points="158.2,569.1 163.2,569.1 160.7,565.9" fill="#1C6CB8" stroke="#0d3a70" stroke-width="0.5" stroke-linejoin="miter"/>
<polygon points="182.7,585.5 187.7,585.5 185.2,582.3" fill="#1C6CB8" stroke="#0d3a70" stroke-width="0.5" stroke-linejoin="miter"/>
<polygon points="246.6,582.4 251.6,582.4 249.1,579.2" fill="#1C6CB8" stroke="#0d3a70" stroke-width="0.5" stroke-linejoin="miter"/>
<polygon points="235.7,590.9 240.7,590.9 238.2,587.7" fill="#1C6CB8" stroke="#0d3a70" stroke-width="0.5" stroke-linejoin="miter"/>
<polygon points="244.4,608 249.4,608 246.9,604.8" fill="#1C6CB8" stroke="#0d3a70" stroke-width="0.5" stroke-linejoin="miter"/>
<polygon points="246.6,617.8 251.6,617.8 249.1,614.6" fill="#1C6CB8" stroke="#0d3a70" stroke-width="0.5" stroke-linejoin="miter"/>
<polygon points="254.2,566.1 259.2,566.1 256.7,562.9" fill="#1C6CB8" stroke="#0d3a70" stroke-width="0.5" stroke-linejoin="miter"/>
<polygon points="255.3,580.7 260.3,580.7 257.8,577.5" fill="#1C6CB8" stroke="#0d3a70" stroke-width="0.5" stroke-linejoin="miter"/>
<polygon points="253.6,600.3 258.6,600.3 256.1,597.1" fill="#1C6CB8" stroke="#0d3a70" stroke-width="0.5" stroke-linejoin="miter"/>
<polygon points="334.9,500.2 339.9,500.2 337.4,497" fill="#1C6CB8" stroke="#0d3a70" stroke-width="0.5" stroke-linejoin="miter"/>
<polygon points="316.1,560.2 321.1,560.2 318.6,557" fill="#1C6CB8" stroke="#0d3a70" stroke-width="0.5" stroke-linejoin="miter"/>
<polygon points="283.2,566.8 288.2,566.8 285.7,563.6" fill="#1C6CB8" stroke="#0d3a70" stroke-width="0.5" stroke-linejoin="miter"/>
<polygon points="340.4,574.5 345.4,574.5 342.9,571.3" fill="#1C6CB8" stroke="#0d3a70" stroke-width="0.5" stroke-linejoin="miter"/>
<polygon points="287.5,582.1 292.5,582.1 290,578.9" fill="#1C6CB8" stroke="#0d3a70" stroke-width="0.5" stroke-linejoin="miter"/>
<polygon points="327.7,584.7 332.7,584.7 330.2,581.5" fill="#1C6CB8" stroke="#0d3a70" stroke-width="0.5" stroke-linejoin="miter"/>
<polygon points="295.6,610.9 300.6,610.9 298.1,607.7" fill="#1C6CB8" stroke="#0d3a70" stroke-width="0.5" stroke-linejoin="miter"/>
<polygon points="282,622.8 287,622.8 284.5,619.6" fill="#1C6CB8" stroke="#0d3a70" stroke-width="0.5" stroke-linejoin="miter"/>
<text x="93.5" y="659.6" font-size="12.2" text-anchor="middle" fill="#2a2a2a">Scores on PC 1 (13.17%)</text>
<text x="306.6" y="663.8" font-size="12.2" text-anchor="middle" fill="#2a2a2a">Scores on PC 2 (9.68%)</text>
<text x="28" y="554.8" font-size="12.2" text-anchor="middle" fill="#2a2a2a" transform="rotate(-90 28 554.8)">Scores on PC 3 (5.64%)</text>
<text x="7.1" y="476.2" font-size="12.5" text-anchor="start" fill="#2a2a2a" textLength="13.9" lengthAdjust="spacingAndGlyphs" style="stroke-width:0.4px">(c)</text>
<polygon points="447.2,548.2 454.2,548.2 450.7,542.8" fill="#1C6CB8"/>
<text x="456.6" y="550" font-size="12" text-anchor="start" fill="#2a2a2a">Arabica</text>
<ellipse cx="450.3" cy="559" rx="2.4" ry="2.4" fill="#E8601C" stroke="#2a0c02" stroke-width="0.7"/>
<text x="456.6" y="563.3" font-size="12" text-anchor="start" fill="#2a2a2a">Robusta</text>
</svg>
</body></html>
